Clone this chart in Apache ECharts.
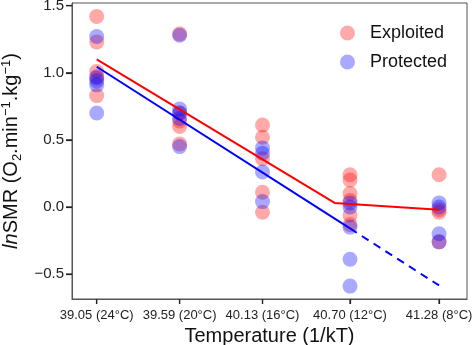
<!DOCTYPE html>
<html>
<head>
<meta charset="utf-8">
<script src="https://cdn.jsdelivr.net/npm/echarts@6/dist/echarts.min.js"></script>
<style>html,body{margin:0;padding:0;background:#fff;}#c{width:474px;height:345px;}</style>
</head>
<body>
<div id="c"></div>
<script>
// Temperature positions (1/kT) and tick labels
var xValues = [39.05, 39.59, 40.13, 40.70, 41.28];
var xTickLabels = ['39.05 (24°C)', '39.59 (20°C)', '40.13 (16°C)', '40.70 (12°C)', '41.28 (8°C)'];
var yTicks = [-0.5, 0, 0.5, 1.0, 1.5];

// lnSMR observations per temperature
var exploited = [
  [1.42, 1.23, 1.01, 0.96, 0.83],
  [1.29, 0.70, 0.64, 0.60, 0.47],
  [0.61, 0.52, 0.36, 0.11, -0.04],
  [0.24, 0.20, 0.10, 0.05, -0.06, -0.13],
  [0.24, -0.02, -0.04, -0.26]
];
var protectedVals = [
  [1.27, 0.97, 0.94, 0.91, 0.70],
  [1.28, 0.73, 0.70, 0.66, 0.45],
  [0.44, 0.40, 0.26, 0.04],
  [0.03, 0.00, -0.15, -0.39, -0.59],
  [0.03, 0.00, -0.20, -0.26]
];

// Fitted lines
var exploitedFitX = [39.05, 40.60, 41.28];
var exploitedFitY = [1.10, 0.03, -0.02];
var protectedFitX = [39.05, 40.70];
var protectedFitY = [1.045, -0.16];
var protectedExtX = [40.70, 41.28];
var protectedExtY = [-0.16, -0.585];

function pts(groups) {
  var out = [];
  groups.forEach(function (g, i) { g.forEach(function (v) { out.push([xValues[i], v]); }); });
  return out;
}
function pairs(xs, ys) { return xs.map(function (x, i) { return [x, ys[i]]; }); }

var FONT = "'Liberation Sans', Arial, sans-serif";
var chart = echarts.init(document.getElementById('c'), null, {renderer: 'canvas'});
chart.setOption({
  animation: false,
  backgroundColor: '#fff',
  grid: {left: 72, right: 7, top: 3, bottom: 46, outerBoundsMode: 'none', containLabel: false,
         show: true, borderColor: '#555', borderWidth: 1, backgroundColor: 'transparent'},
  legend: {
    orient: 'vertical', left: 335, top: 19,
    data: ['Exploited', 'Protected'],
    icon: 'circle', itemWidth: 15, itemHeight: 15, itemGap: 11,
    textStyle: {fontFamily: FONT, fontSize: 18, color: '#111', padding: [0, 0, 0, 10]}
  },
  xAxis: {
    type: 'value', min: 38.889, max: 41.462,
    axisLine: {show: true, onZero: false, lineStyle: {color: '#555'}},
    splitLine: {show: false},
    axisTick: {show: true, inside: false, length: 5, customValues: xValues, lineStyle: {color: '#222', width: 1.2}},
    axisLabel: {
      customValues: xValues, margin: 10, fontFamily: FONT, fontSize: 13, color: '#222',
      formatter: function (v) { var i = xValues.indexOf(Math.round(v * 100) / 100); return i >= 0 ? xTickLabels[i] : ''; }
    },
    name: 'Temperature (1/kT)', nameLocation: 'middle', nameGap: 26,
    nameTextStyle: {fontFamily: FONT, fontSize: 20, color: '#111'}
  },
  yAxis: {
    type: 'value', min: -0.686, max: 1.52,
    axisLine: {show: true, onZero: false, lineStyle: {color: '#555'}},
    splitLine: {show: false},
    axisTick: {show: true, inside: false, length: 6, customValues: yTicks, lineStyle: {color: '#222', width: 1.2}},
    axisLabel: {
      customValues: yTicks, margin: 8, fontFamily: FONT, fontSize: 15, color: '#222',
      formatter: function (v) { return v < 0 ? '\u2212' + Math.abs(v).toFixed(1) : v.toFixed(1); }
    },
    name: '{i|ln}SMR (O{sub|2}.min{sup|\u22121}.kg{sup|\u22121})',
    nameLocation: 'middle', nameGap: 48, nameRotate: 90,
    nameTextStyle: {
      fontFamily: FONT, fontSize: 20, color: '#111', lineHeight: 24,
      rich: {
        i: {fontFamily: FONT, fontSize: 20, fontStyle: 'italic', color: '#111', lineHeight: 24},
        sub: {fontFamily: FONT, fontSize: 13, color: '#111', verticalAlign: 'bottom', lineHeight: 13},
        sup: {fontFamily: FONT, fontSize: 13, color: '#111', verticalAlign: 'top', lineHeight: 13}
      }
    }
  },
  series: [
    {name: 'Exploited', type: 'scatter', symbol: 'circle', symbolSize: 15, z: 2,
     itemStyle: {color: 'rgba(255,0,0,0.42)'}, data: pts(exploited)},
    {name: 'Protected', type: 'scatter', symbol: 'circle', symbolSize: 15, z: 2,
     itemStyle: {color: 'rgba(0,0,255,0.42)'}, data: pts(protectedVals)},
    {name: 'fitE', type: 'line', symbol: 'none', z: 3, lineStyle: {color: '#ff0000', width: 2}, data: pairs(exploitedFitX, exploitedFitY)},
    {name: 'fitP', type: 'line', symbol: 'none', z: 3, lineStyle: {color: '#0000ff', width: 2}, data: pairs(protectedFitX, protectedFitY)},
    {name: 'fitPext', type: 'line', symbol: 'none', z: 3, lineStyle: {color: '#0000ff', width: 2, type: [8, 6]}, data: pairs(protectedExtX, protectedExtY)}
  ]
});
// tick marks placed through the library's own axis conversion
var tickEls = [];
var corner = chart.convertToPixel({gridIndex: 0}, [38.889, -0.686]);
var yBottom = corner[1];
var xLeft = corner[0];
xValues.forEach(function (v) {
  var px = chart.convertToPixel({xAxisIndex: 0}, v);
  tickEls.push({type: 'line', shape: {x1: px, y1: yBottom, x2: px, y2: yBottom + 5}, style: {stroke: '#222', lineWidth: 1.2}, silent: true});
});
yTicks.forEach(function (v) {
  var py = chart.convertToPixel({yAxisIndex: 0}, v);
  tickEls.push({type: 'line', shape: {x1: xLeft - 6, y1: py, x2: xLeft, y2: py}, style: {stroke: '#222', lineWidth: 1.2}, silent: true});
});
chart.setOption({graphic: tickEls});
</script>
</body>
</html>
